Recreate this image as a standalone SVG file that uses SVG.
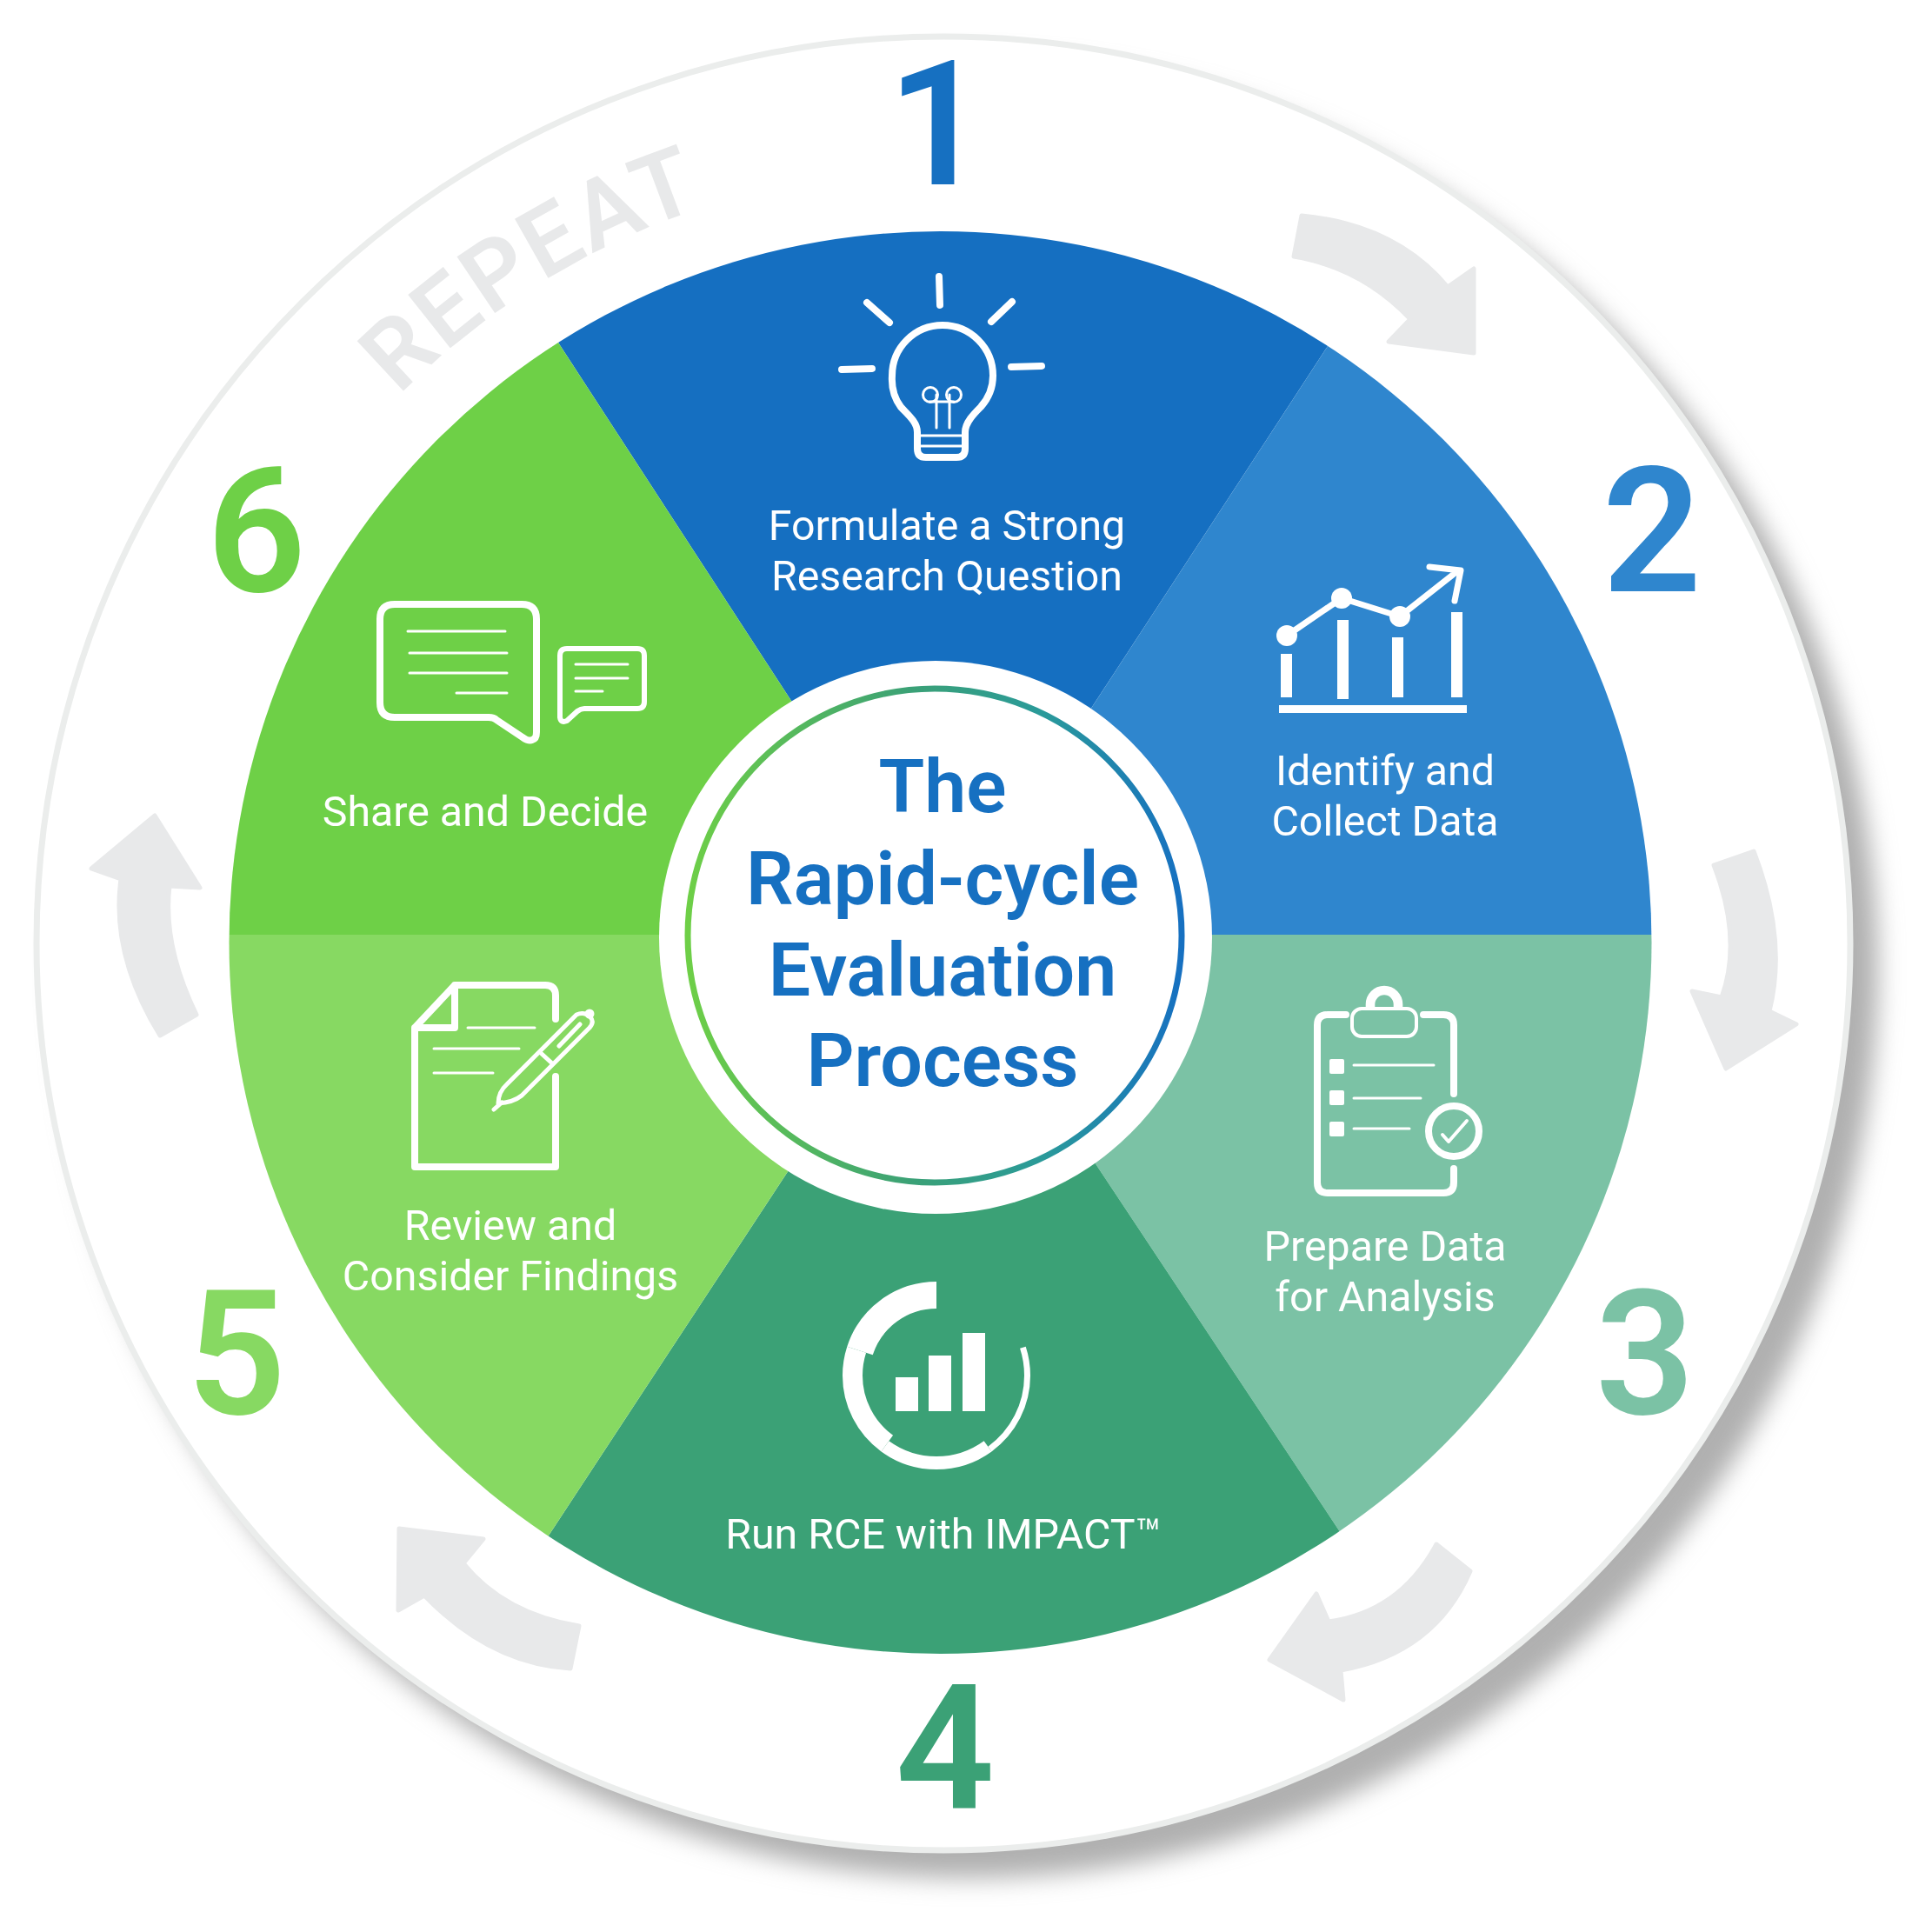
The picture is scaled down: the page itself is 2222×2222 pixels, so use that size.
<svg xmlns="http://www.w3.org/2000/svg" width="2222" height="2222" viewBox="0 0 2222 2222">
<style>
.lbl{font-family:Roboto,"Liberation Sans",sans-serif;font-size:48.3px;fill:#fff;text-anchor:middle}
.ttl{font-family:Roboto,"Liberation Sans",sans-serif;font-size:86px;font-weight:600;fill:#1670c1;text-anchor:middle}
.num{font-family:Roboto,"Liberation Sans",sans-serif;font-size:200px;font-weight:600;text-anchor:middle}
.ic{fill:none;stroke:#fff;stroke-linecap:round;stroke-linejoin:round}
.w8{stroke-width:8}.w3{stroke-width:3}.w5{stroke-width:5}
.solid{fill:#fff}
.sector{clip-path:url(#pie)}
.arrow{fill:#e8e9ea;stroke:#e8e9ea;stroke-width:5;stroke-linejoin:round}
</style>
<defs>
<filter id="sh" x="-10%" y="-10%" width="120%" height="120%"><feGaussianBlur stdDeviation="14"/></filter>
<clipPath id="pie"><circle cx="1081.5" cy="1084" r="818"/></clipPath>
<linearGradient id="ring" x1="0" y1="0" x2="1" y2="0"><stop offset="0" stop-color="#6ecf47"/><stop offset="0.45" stop-color="#3ba176"/><stop offset="0.72" stop-color="#2a9a9a"/><stop offset="1" stop-color="#1670c1"/></linearGradient>
</defs>
<rect width="2222" height="2222" fill="#fff"/>
<g id="dial">
<circle cx="1115" cy="1115" r="1045" fill="#b0b0b0" filter="url(#sh)"/>
<circle cx="1085" cy="1085" r="1043" fill="#fff" stroke="#ebedec" stroke-width="7"/>
</g>
<g id="node-1">
<path class="sector" d="M1085,1075 L510,191 L1657,199 Z" fill="#156fc1"/>
<g id="icon-1">
<path class="ic w8" d="M1080,318 L1081,351 M997,348 L1023,371 M1164,347 L1140,370 M968,425 L1003,424 M1163,422 L1198,421"/>
<path class="ic w8" d="M1055,497 C1055,485 1043,476 1036,468 C1030,460 1025,448 1026,432 A58,58 0 0 1 1142,432 C1142,448 1136,459 1128,468 C1120,476 1110,486 1110,497 V516 Q1110,526 1100,526 H1065 Q1055,526 1055,516 Z"/>
<path class="ic w3" d="M1055,501 H1110 M1055,513 H1110 M1077,492 V454 M1092,492 V454 M1069,462 H1097"/>
<circle class="ic w3" cx="1070" cy="454" r="8.5"/><circle class="ic w3" cx="1097" cy="454" r="8.5"/>
</g>
<text class="lbl" x="1089" y="621">Formulate a Strong</text>
<text class="lbl" x="1089" y="679">Research Question</text>
<text class="num" x="1078" y="212" fill="#1670c1">1</text>
</g>
<g id="node-2">
<path class="sector" d="M1085,1075 L1657,199 L2100,400 L2100,1075 Z" fill="#2f86ce"/>
<g id="icon-2">
<path class="solid" d="M1473,752 h13 v50 h-13 Z M1538,713 h13 v91 h-13 Z M1601,733 h13 v69 h-13 Z M1669,704 h13 v98 h-13 Z M1471,811 h216 v9 h-216 Z"/>
<circle class="solid" cx="1480" cy="731" r="12"/><circle class="solid" cx="1543" cy="688" r="12"/><circle class="solid" cx="1610" cy="709" r="12"/>
<path class="ic" style="stroke-width:7" d="M1480,731 L1543,688 L1610,709 L1676,657 M1644,652 L1680,656 L1673,691"/>
</g>
<text class="lbl" x="1593" y="903">Identify and</text>
<text class="lbl" x="1593" y="961">Collect Data</text>
<text class="num" x="1900" y="680" fill="#2f86ce">2</text>
</g>
<g id="node-3">
<path class="sector" d="M1085,1075 L2100,1075 L2100,1700 L1676,1965 Z" fill="#7bc2a5"/>
<g id="icon-3">
<path class="ic w8" d="M1548,1167 H1527 Q1515,1167 1515,1179 V1360 Q1515,1372 1527,1372 H1660 Q1672,1372 1672,1360 V1344 M1637,1167 H1660 Q1672,1167 1672,1179 V1258"/>
<rect class="ic" style="stroke-width:4" x="1555" y="1160" width="74" height="32" rx="11"/>
<path class="ic" style="stroke-width:10.6;stroke-linecap:butt" d="M1576,1160 V1155 A16,16 0 0 1 1608,1155 V1160"/>
<rect class="solid" x="1529" y="1218" width="17" height="17" rx="2"/><rect class="solid" x="1529" y="1254" width="17" height="17" rx="2"/><rect class="solid" x="1529" y="1290" width="17" height="17" rx="2"/>
<path class="ic w3" d="M1557,1225 H1649 M1557,1263 H1634 M1557,1298 H1621"/>
<circle class="ic w8" cx="1672" cy="1301" r="29"/>
<path class="ic" style="stroke-width:4" d="M1659,1305 L1666,1313 L1687,1289"/>
</g>
<text class="lbl" x="1593" y="1450">Prepare Data</text>
<text class="lbl" x="1593" y="1508">for Analysis</text>
<text class="num" x="1892" y="1626" fill="#7bc2a5">3</text>
</g>
<g id="node-4">
<path class="sector" d="M1085,1075 L1676,1965 L495,1973 Z" fill="#3ba176"/>
<g id="icon-4" fill="none" stroke="#fff" transform="rotate(-90 1077 1582)">
<circle cx="1077" cy="1582" r="92.5" stroke-width="31" pathLength="360" stroke-dasharray="72 288" stroke-dashoffset="-288"/>
<circle cx="1077" cy="1582" r="96.5" stroke-width="23" pathLength="360" stroke-dasharray="72 288" stroke-dashoffset="-216"/>
<circle cx="1077" cy="1582" r="100.5" stroke-width="15" pathLength="360" stroke-dasharray="72 288" stroke-dashoffset="-144"/>
<circle cx="1077" cy="1582" r="104.5" stroke-width="7" pathLength="360" stroke-dasharray="72 288" stroke-dashoffset="-72"/>
</g>
<path class="solid" d="M1030,1584 h26 v39 h-26 Z M1068,1559 h26 v64 h-26 Z M1107,1533 h26 v90 h-26 Z"/>
<text class="lbl" x="1085" y="1781">Run RCE with IMPACT™</text>
<text class="num" x="1087" y="2080" fill="#3ba176">4</text>
</g>
<g id="node-5">
<path class="sector" d="M1085,1075 L495,1973 L100,1700 L100,1075 Z" fill="#87d962"/>
<g id="icon-5">
<path class="ic w8" d="M639,1172 V1145 Q639,1133 627,1133 H523 L477,1182 V1342 H639 V1238 M523,1133 V1182 H477"/>
<path class="ic w3" d="M538,1182 H615 M499,1206 H597 M499,1234 H567"/>
<path class="ic w5" d="M663,1167 L583,1247 Q573,1256 573,1269 Q590,1268 600,1260 L678,1182 Q684,1175 679,1170 Q672,1163 663,1167 Z M568,1276 L577,1268 M623,1212 L635,1223 M643,1203 L667,1178"/>
<circle class="solid" cx="678" cy="1166" r="5.5"/>
</g>
<text class="lbl" x="587" y="1426">Review and</text>
<text class="lbl" x="587" y="1484">Consider Findings</text>
<text class="num" x="272" y="1626" fill="#87d962">5</text>
</g>
<g id="node-6">
<path class="sector" d="M1085,1075 L100,1075 L100,400 L510,191 Z" fill="#6ed047"/>
<g id="icon-6">
<path class="ic w8" d="M454,695 H600 Q617,695 617,712 V842 Q617,850 612,851 Q608,853 601,848 L571,828 Q568,825 562,825 H454 Q437,825 437,808 V712 Q437,695 454,695 Z"/>
<path class="ic w3" d="M469,726 H581 M471,751 H583 M471,774 H583 M525,797 H583"/>
<path class="ic" style="stroke-width:6" d="M652,746 H733 Q741,746 741,754 V807 Q741,815 733,815 H672 Q668,815 664,818 L652,829 Q645,832 644,825 V754 Q644,746 652,746 Z"/>
<path class="ic w3" d="M662,764 H722 M662,780 H722 M662,795 H693"/>
</g>
<text class="lbl" x="558" y="950">Share and Decide</text>
<text class="num" x="295" y="680" fill="#6ed047">6</text>
</g>
<g id="node-center">
<circle cx="1076" cy="1078" r="318" fill="#fff"/>
<circle cx="1075" cy="1076" r="284" fill="none" stroke="url(#ring)" stroke-width="7"/>
<text class="ttl" x="1084" y="934">The</text>
<text class="ttl" x="1084" y="1040">Rapid-cycle</text>
<text class="ttl" x="1084" y="1145">Evaluation</text>
<text class="ttl" x="1084" y="1249">Process</text>
</g>
<g id="connectors">
<path class="arrow" d="M1497,248 Q1605,258 1665,330 L1695,309 L1695,406 L1597,393 L1622,367 Q1566,308 1488,295 Z"/>
<path class="arrow" d="M2017,979 Q2056,1080 2035,1163 L2066,1178 L1985,1229 L1946,1140 L1980,1147 Q2004,1080 1971,995 Z"/>
<path class="arrow" d="M1691,1807 Q1650,1902 1542,1921 L1545,1955 L1460,1909 L1514,1833 L1528,1865 Q1610,1854 1652,1776 Z"/>
<path class="arrow" d="M656,1919 Q564,1914 488,1835 L458,1852 L459,1758 L556,1770 L533,1798 Q580,1856 666,1870 Z"/>
<path class="arrow" d="M184,1191 Q127,1098 139,1011 L105,999 L178,938 L230,1021 L195,1019 Q187,1087 226,1167 Z"/>
</g>
<g id="repeat">
<path id="rp" d="M459,455 A881,881 0 0 1 1085,194" fill="none"/>
<text style="font-family:Roboto,'Liberation Sans',sans-serif;font-size:110px;font-weight:600;letter-spacing:3px" fill="#e8e9ea"><textPath href="#rp">REPEAT</textPath></text>
</g>
</svg>
